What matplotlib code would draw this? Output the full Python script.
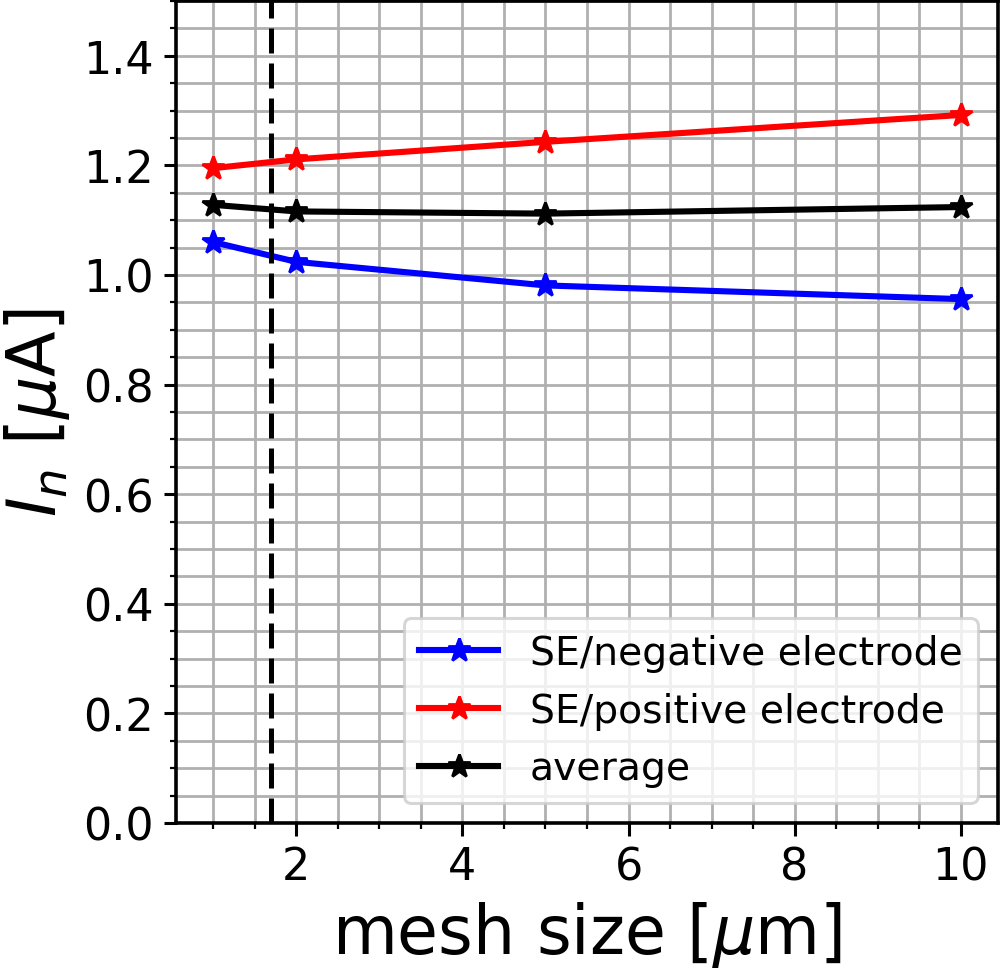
import numpy as np
import matplotlib
matplotlib.use("Agg")
import matplotlib.pyplot as plt
from matplotlib.ticker import MultipleLocator

# mesh sizes [um]
mesh = [1, 2, 5, 10]

# current values [uA]
i_neg = [1.060, 1.024, 0.981, 0.956]
i_pos = [1.195, 1.211, 1.243, 1.292]
i_avg = [1.128, 1.116, 1.112, 1.124]

labels = ["SE/negative electrode", "SE/positive electrode", "average"]
colors = ["blue", "red", "black"]

x_ref = 1.7  # dashed reference line

fig = plt.figure(figsize=(5.005, 4.85), dpi=200)
ax = fig.add_axes([176 / 1001, 1 - 824 / 970, (998 - 176) / 1001, (824 - 2) / 970])

for y, lab, c in zip([i_neg, i_pos, i_avg], labels, colors):
    ax.plot(mesh, y, marker="*", color=c, label=lab, linewidth=2.2, markersize=8.5)

ax.axvline(x_ref, color="k", linestyle=(0, (5, 2)), linewidth=1.8)

ax.set_ylim(0, 1.5)
ax.xaxis.set_minor_locator(MultipleLocator(0.5))
ax.yaxis.set_minor_locator(MultipleLocator(0.05))
ax.yaxis.set_major_locator(MultipleLocator(0.2))
ax.grid(which="both", linewidth=1.0)
ax.set_axisbelow(True)

for sp in ax.spines.values():
    sp.set_linewidth(1.3)
ax.tick_params(which="major", labelsize=16, length=4.5, width=1.1)
ax.tick_params(which="minor", length=2.2, width=0.8)

ax.set_xlabel(r"mesh size [$\mu$m]", fontsize=24)
ax.set_ylabel(r"$I_n$ [$\mu$A]", fontsize=24)

leg = ax.legend(loc="lower right", fontsize=14.2)
leg.get_frame().set_linewidth(1.1)

fig.savefig("out.png", dpi=200)
